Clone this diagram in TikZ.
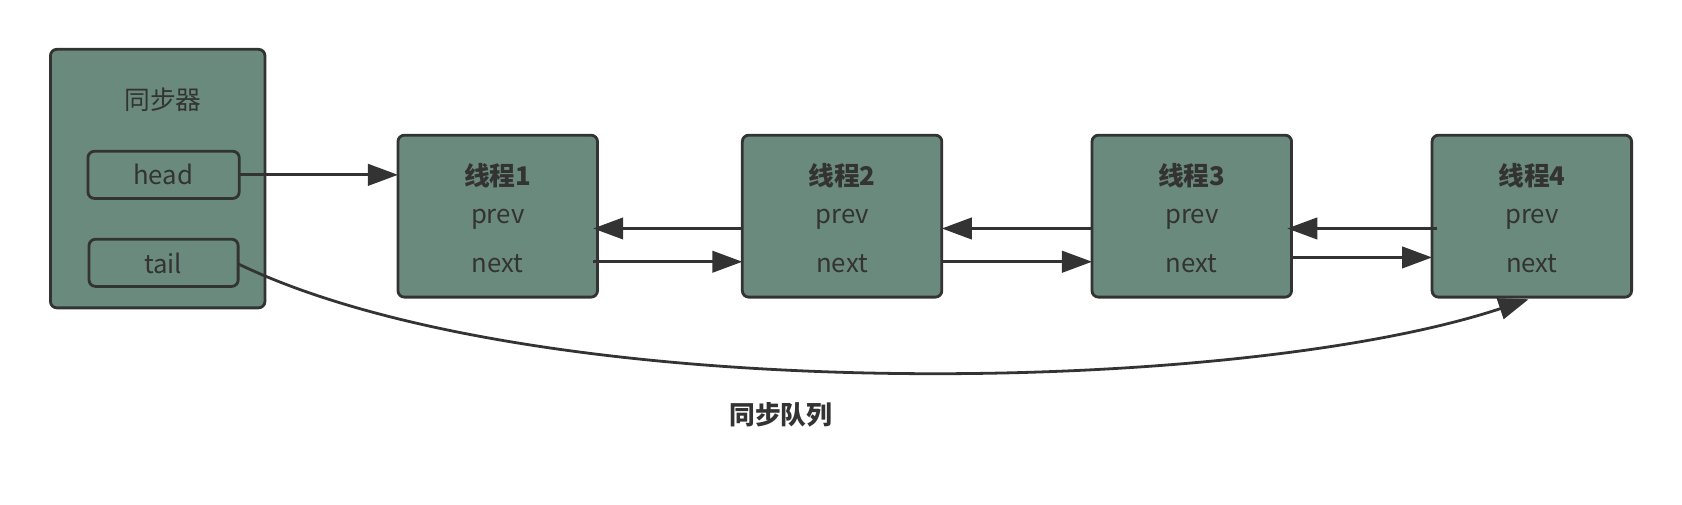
\documentclass[tikz,border=0pt]{standalone}
\usepackage{fontspec}
\setmainfont{Noto Sans CJK SC}
\usetikzlibrary{arrows.meta}
\definecolor{boxfill}{HTML}{6B8A7E}
\definecolor{ink}{HTML}{333333}
\begin{document}
\begin{tikzpicture}[x=0.5pt,y=-0.5pt,
  bx/.style={draw=ink,fill=boxfill,line width=1.3pt,rounded corners=3pt},
  lbl/.style={text=ink,font=\fontsize{12}{14}\selectfont,inner sep=0},
  ttl/.style={text=ink,font=\fontsize{12}{14}\selectfont\bfseries,inner sep=0},
  arr/.style={draw=ink,line width=1.3pt,-{Triangle[length=14pt,width=10pt]}}]
\useasboundingbox (0,0) rectangle (1568,470);
\draw[bx] (47,46) rectangle (247,287);
\node[lbl] (sync) at (152,93) {同步器};
\draw[bx] (82,141) rectangle (223,185);
\node[lbl] (head) at (152,163) {head};
\coordinate (hr) at (223,163);
\draw[bx] (83,223) rectangle (222,267);
\node[lbl] (tail) at (152,246) {tail};
\coordinate (tr) at (222,246);
\foreach \i/\a/\b in {1/371/557,2/692/878,3/1018/1204,4/1335/1521}{
  \draw[bx] (\a,126) rectangle (\b,277);
  \node[ttl] (t\i) at ({(\a+\b)/2},164) {线程\i};
  \node[lbl] (p\i) at ({(\a+\b)/2},204) {prev};
  \node[lbl] (n\i) at ({(\a+\b)/2},246) {next};
  \coordinate (L\i) at (\a,0);
  \coordinate (R\i) at (\b,0);
}
\coordinate (t4b) at (1425,279);
\draw[arr] (hr) -- (371,163);
\draw[arr] (692,213) -- (553,213);
\draw[arr] (1018,213) -- (878,213);
\draw[arr] (1340,213) -- (1200,213);
\draw[arr] (553,244) -- (692,244);
\draw[arr] (878,244) -- (1018,244);
\draw[arr] (1204,240) -- (1335,240);
\draw[arr] (tr) .. controls (500,380) and (1150,370) .. (t4b);
\node[ttl] (q) at (728,387) {同步队列};
\end{tikzpicture}
\end{document}
